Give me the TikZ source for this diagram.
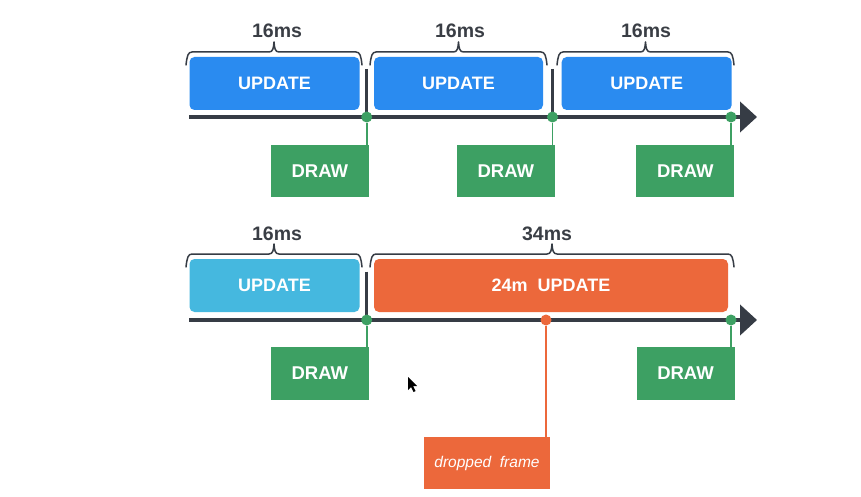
\documentclass[tikz,border=0pt]{standalone}
\usepackage{fontspec}
\setmainfont{Liberation Sans}
\usetikzlibrary{arrows.meta}
\definecolor{upblue}{HTML}{2A8BF0}
\definecolor{uplight}{HTML}{45B8DF}
\definecolor{uporange}{HTML}{EC683B}
\definecolor{drgreen}{HTML}{3DA063}
\definecolor{tldark}{HTML}{363C45}
\definecolor{lbldark}{HTML}{3A3E45}
\tikzset{
  updbox/.style={rounded corners=5pt, inner sep=0pt, minimum width=170pt, minimum height=53pt,
    text=white, font=\fontsize{18}{20}\selectfont\bfseries},
  drawbox/.style={fill=drgreen, inner sep=0pt, minimum width=98pt, minimum height=52pt,
    text=white, font=\fontsize{18.5}{20}\selectfont\bfseries},
  droppedbox/.style={fill=uporange, inner sep=0pt, minimum width=126pt, minimum height=52pt,
    text=white, font=\fontsize{15.5}{18}\selectfont\itshape},
  durlabel/.style={text=lbldark, font=\fontsize{19.5}{22}\selectfont\bfseries, inner sep=0pt},
  bracestyle/.style={draw=tldark, line width=1.5pt, line join=round, line cap=round},
  timeline/.style={draw=tldark, line width=4.2pt, -{Triangle[length=17pt,width=30pt]}},
  sepbar/.style={draw=tldark, line width=3.3pt},
  gdot/.style={circle, fill=drgreen, inner sep=0pt, minimum size=11pt},
  odot/.style={circle, fill=uporange, inner sep=0pt, minimum size=11pt},
  glink/.style={draw=drgreen, line width=1.6pt},
  olink/.style={draw=uporange, line width=1.6pt},
}
\newcommand\tlbrace[3]{%
  \pgfmathsetmacro\bm{(#1+#2)/2}%
  \draw[bracestyle] (#1,#3) .. controls (#1+1,#3-9) and (#1+2,#3-13) .. (#1+6,#3-13)
    -- (\bm-5,#3-13) .. controls (\bm-1,#3-13) and (\bm-0.5,#3-17) .. (\bm,#3-23)
    .. controls (\bm+0.5,#3-17) and (\bm+1,#3-13) .. (\bm+5,#3-13)
    -- (#2-6,#3-13) .. controls (#2-2,#3-13) and (#2-1,#3-9) .. (#2,#3);}
\begin{document}
\begin{tikzpicture}[x=1pt,y=-1pt]
\path[fill=white,use as bounding box] (0,0) rectangle (861,497);

% ---------- top row ----------
\coordinate (t1s) at (189,117);
\coordinate (t1e) at (757,117);
\draw[timeline] (t1s) -- (t1e);

\node[updbox, fill=upblue] (u1) at (274.5,83.5) {UPDATE};
\node[updbox, fill=upblue, minimum width=169pt] (u2) at (458.5,83.5) {UPDATE};
\node[updbox, fill=upblue] (u3) at (646.7,83.5) {UPDATE};

\coordinate (s1t) at (366.7,69);
\coordinate (s2t) at (552.5,69);
\draw[sepbar] (s1t) -- (s1t |- t1s);
\draw[sepbar] (s2t) -- (s2t |- t1s);

\tlbrace{186}{362}{65}
\tlbrace{370}{547}{65}
\tlbrace{557}{734}{65}
\node[durlabel] (l1) at (277,31) {16ms};
\node[durlabel] (l2) at (460,31) {16ms};
\node[durlabel] (l3) at (646,31) {16ms};

\node[drawbox] (d1) at (319.8,171) {DRAW};
\node[drawbox] (d2) at (505.8,171) {DRAW};
\node[drawbox] (d3) at (685.3,171) {DRAW};

\node[gdot] (g1) at (366.7,117) {};
\node[gdot] (g2) at (552.5,117) {};
\node[gdot] (g3) at (731,117) {};
\draw[glink] (g1) -- (g1 |- d1.north);
\draw[glink] (g2) -- (g2 |- d2.north);
\draw[glink] (g3) -- (g3 |- d3.north);

% ---------- bottom row ----------
\coordinate (t2s) at (189,320);
\coordinate (t2e) at (757,320);
\draw[timeline] (t2s) -- (t2e);

\node[updbox, fill=uplight] (u4) at (274.5,285.5) {UPDATE};
\node[updbox, fill=uporange, minimum width=354pt] (u5) at (551,285.5) {24m\ \ UPDATE};

\coordinate (s3t) at (366.7,271.7);
\draw[sepbar] (s3t) -- (s3t |- t2s);

\tlbrace{186}{362}{267}
\tlbrace{370}{734}{267}
\node[durlabel] (l4) at (277,234) {16ms};
\node[durlabel] (l5) at (547,234) {34ms};

\node[drawbox, minimum height=53pt] (d4) at (319.8,373.3) {DRAW};
\node[drawbox, minimum height=53pt] (d5) at (685.5,373.3) {DRAW};
\node[droppedbox] (df) at (487,463) {dropped\ \ frame};

\node[gdot] (g4) at (366.7,320) {};
\node[odot] (o1) at (546,320) {};
\node[gdot] (g5) at (731,320) {};
\draw[glink] (g4) -- (g4 |- d4.north);
\draw[olink] (o1) -- (o1 |- df.north);
\draw[glink] (g5) -- (g5 |- d5.north);

% mouse cursor
\fill[black] (408,377) -- (408,390) -- (411,387) -- (413.5,392) -- (415.5,391) -- (413,386) -- (417,386) -- cycle;
\end{tikzpicture}
\end{document}
